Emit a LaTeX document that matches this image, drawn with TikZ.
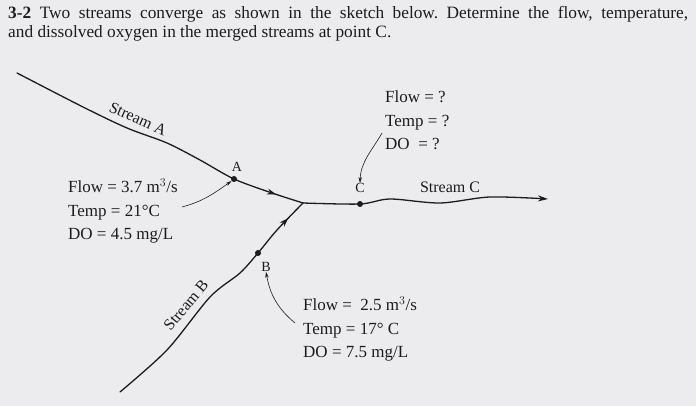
\documentclass[tikz,border=0pt]{standalone}
\usepackage{fontspec}
\setmainfont{Liberation Serif}
\usetikzlibrary{arrows.meta,decorations.markings}
\frenchspacing

\definecolor{paper}{RGB}{236,236,238}
\definecolor{ink}{RGB}{28,28,30}

\tikzset{
	stream/.style={ink, line width=1.3pt, line join=round, line cap=round},
	midarrow/.style={postaction={decorate}, decoration={markings,
		mark=at position #1 with {\arrow{Stealth[length=9pt,width=6pt]}}}},
	pointer/.style={ink, line width=0.6pt, -{Stealth[length=6pt,width=3.5pt]}},
	dotpt/.style={circle, fill=ink, inner sep=0pt, minimum size=6pt},
	info/.style={align=left, inner sep=0pt, anchor=base west, text=ink,
		font=\fontsize{17}{23.5}\selectfont},
	lbl/.style={inner sep=0pt, text=ink, font=\fontsize{14}{16}\selectfont},
	streamname/.style={lbl, font=\fontsize{16}{18}\selectfont},
}

\begin{document}
\begin{tikzpicture}[x=1pt, y=1pt]

% background and frame
\fill[paper] (0,0) rectangle (696,406);
\useasboundingbox (0,0) rectangle (696,406);

% problem statement (anchored at the baseline of its last line)
\node[info, font=\fontsize{17.3}{19.8}\selectfont] (title) at (8,368)
	{\makebox[680pt][s]{\textbf{3-2} Two streams converge as shown in the sketch below. Determine the flow, temperature,}\\
	and dissolved oxygen in the merged streams at point C.};

% points on the streams
\coordinate (J) at (303,203);
\node[dotpt] (A) at (234,227) {};
\node[dotpt] (B) at (258,153) {};
\node[dotpt] (C) at (360,202) {};

% stream A
\coordinate (sA) at (17,333);
\coordinate (a1) at (83,299);
\coordinate (a2) at (127,278);
\coordinate (a3) at (167,263);
\coordinate (a4) at (200,246);
\coordinate (a5) at (272,213);
\draw[stream, midarrow=0.91] plot[smooth, tension=0.5]
	coordinates {(sA) (a1) (a2) (a3) (a4) (A) (a5) (J)};

% stream B
\coordinate (sB) at (120,14);
\coordinate (b1) at (167,56);
\coordinate (b2) at (210,109);
\coordinate (b3) at (240,133);
\coordinate (b4) at (277,176);
\draw[stream, midarrow=0.92] plot[smooth, tension=0.5]
	coordinates {(sB) (b1) (b2) (b3) (B) (b4) (J)};

% stream C
\coordinate (c1) at (390,207);
\coordinate (c2) at (440,203);
\coordinate (c3) at (490,209);
\coordinate (eC) at (548,207);
\draw[stream, -{Stealth[length=10pt,width=6pt]}] plot[smooth, tension=0.5]
	coordinates {(J) (C) (c1) (c2) (c3) (eC)};

% stream and point labels
\node[lbl] (labA) at (237,239) {A};
\node[lbl] (labB) at (266,139) {B};
\node[lbl] (labC) at (360,218) {C};
\node[streamname, rotate=-24] (nameA) at (138,287) {Stream A};
\node[streamname, rotate=50] (nameB) at (186,101) {Stream B};
\node[streamname] (nameC) at (450,219) {Stream C};

% data of each stream (anchored at the baseline of the last line)
\node[info] (infoA) at (68,166)
	{Flow = 3.7 m$^3$/s\\ Temp = 21°C\\ DO = 4.5 mg/L};
\node[info] (infoB) at (303,48)
	{Flow = \ 2.5 m$^3$/s\\ Temp = 17° C\\ DO = 7.5 mg/L};
\node[info] (infoC) at (385,256)
	{Flow = ?\\ Temp = ?\\ DO \ = ?};

% pointers from the data to the points
\coordinate (pA) at (182,199);
\coordinate (pB) at (295,83);
\coordinate (pC) at (382,273);
\draw[pointer] (pA) to[out=15, in=215] (A.220);
\draw[pointer] (pB) to[out=140, in=-80] (labB.south);
\draw[pointer] (pC) to[out=240, in=88] (labC.north);

\end{tikzpicture}
\end{document}
